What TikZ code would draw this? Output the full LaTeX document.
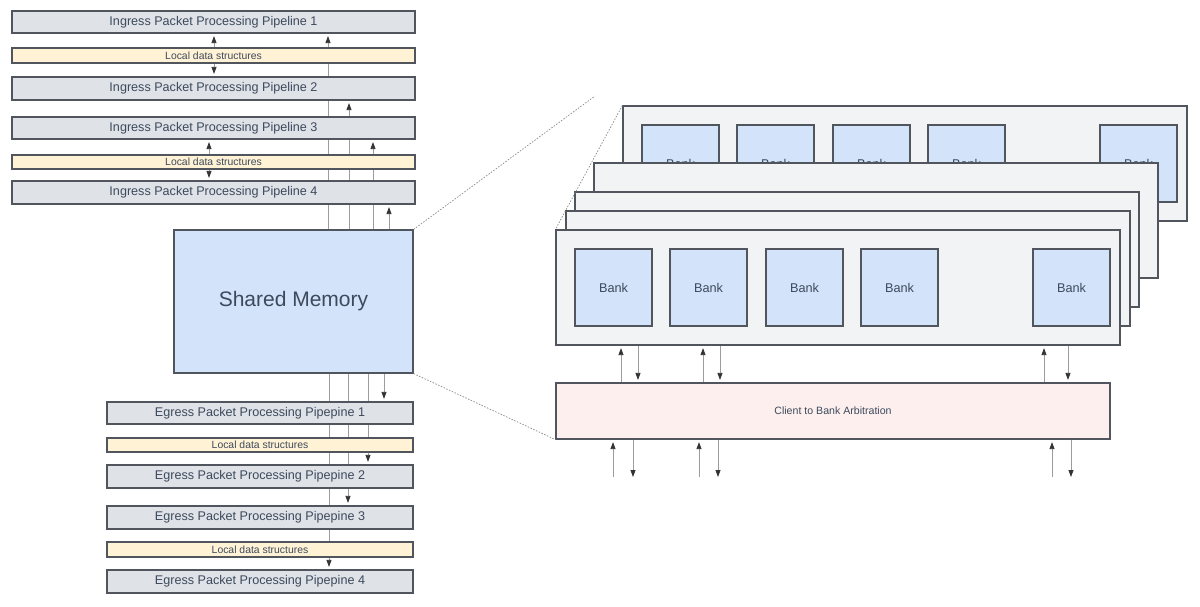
\documentclass[tikz,border=0pt]{standalone}
\usepackage{fontspec}
\setmainfont{Liberation Sans}
\usetikzlibrary{arrows.meta}
\definecolor{pipefill}{HTML}{DFE2E7}
\definecolor{bordc}{HTML}{50555E}
\definecolor{localfill}{HTML}{FFF2D5}
\definecolor{bluefill}{HTML}{D3E3FA}
\definecolor{panelfill}{HTML}{F2F3F5}
\definecolor{arbfill}{HTML}{FCEFEE}
\definecolor{txtc}{HTML}{3D4A5C}
\definecolor{linec}{HTML}{9C9C9C}
\definecolor{headc}{HTML}{333333}
\definecolor{dotc}{HTML}{8A8A8A}
\pgfdeclarelayer{bg}
\pgfsetlayers{bg,main}
\tikzset{
  basebox/.style={draw=bordc, line width=1.2pt, inner sep=0pt, text=txtc, align=center},
  pipebox/.style={basebox, fill=pipefill, font=\fontsize{12.6}{14}\selectfont},
  localbox/.style={basebox, fill=localfill, font=\fontsize{10.4}{12}\selectfont},
  membox/.style={basebox, fill=bluefill, font=\fontsize{21}{24}\selectfont},
  panelbox/.style={basebox, fill=panelfill, minimum width=564pt, minimum height=115pt},
  bankbox/.style={basebox, fill=bluefill, minimum width=77pt, minimum height=77pt, font=\fontsize{12.7}{14}\selectfont},
  arbbox/.style={basebox, fill=arbfill, font=\fontsize{10.6}{12}\selectfont},
  conn/.style={draw=linec, line width=0.8pt, -{Triangle[width=5pt,length=7pt,color=headc]}, shorten >=2.5pt},
  dotline/.style={draw=dotc, line width=0.7pt, dash pattern=on 1.5pt off 1.5pt}
}
\begin{document}
\begin{tikzpicture}[x=1pt,y=-1pt]
\begin{pgfonlayer}{bg}
\fill[white] (0,0) rectangle (1200,606);
\end{pgfonlayer}
\useasboundingbox (0,0) rectangle (1200,606);
% left column
\node[pipebox, minimum width=403pt, minimum height=22pt] (I1) at (213.5,22) {Ingress Packet Processing Pipeline 1};
\node[localbox, minimum width=403pt, minimum height=15pt] (L1) at (213.5,55.5) {Local data structures};
\node[pipebox, minimum width=403pt, minimum height=23pt] (I2) at (213.5,88.5) {Ingress Packet Processing Pipeline 2};
\node[pipebox, minimum width=403pt, minimum height=22pt] (I3) at (213.5,128) {Ingress Packet Processing Pipeline 3};
\node[localbox, minimum width=403pt, minimum height=14pt] (L2) at (213.5,162) {Local data structures};
\node[pipebox, minimum width=403pt, minimum height=23pt] (I4) at (213.5,192.5) {Ingress Packet Processing Pipeline 4};
\node[membox, minimum width=239pt, minimum height=143pt] (SM) at (293.5,301.5) {Shared Memory};
\node[pipebox, minimum width=306pt, minimum height=22pt] (E1) at (260,413) {Egress Packet Processing Pipepine 1};
\node[localbox, minimum width=306pt, minimum height=14pt] (LE1) at (260,445) {Local data structures};
\node[pipebox, minimum width=306pt, minimum height=23pt] (E2) at (260,476.5) {Egress Packet Processing Pipepine 2};
\node[pipebox, minimum width=306pt, minimum height=23pt] (E3) at (260,517.5) {Egress Packet Processing Pipepine 3};
\node[localbox, minimum width=306pt, minimum height=15pt] (LE2) at (260,549.5) {Local data structures};
\node[pipebox, minimum width=306pt, minimum height=23pt] (E4) at (260,581.5) {Egress Packet Processing Pipepine 4};
% right: stacked panels
\node[panelbox] (P1) at (905,163.5) {};
\node[bankbox] (bb1) at (680.5,163.5) {Bank};
\node[bankbox] (bb2) at (775.5,163.5) {Bank};
\node[bankbox] (bb3) at (871.5,163.5) {Bank};
\node[bankbox] (bb4) at (966.5,163.5) {Bank};
\node[bankbox] (bb5) at (1138.5,163.5) {Bank};
\node[panelbox] (P2) at (876,220.5) {};
\node[panelbox] (P3) at (857,249.5) {};
\node[panelbox] (P4) at (848,268.5) {};
\node[panelbox] (P5) at (838,287.5) {};
\node[bankbox] (B1) at (613.5,287.5) {Bank};
\node[bankbox] (B2) at (708.5,287.5) {Bank};
\node[bankbox] (B3) at (804.5,287.5) {Bank};
\node[bankbox] (B4) at (899.5,287.5) {Bank};
\node[bankbox] (B5) at (1071.5,287.5) {Bank};
\node[arbbox, minimum width=554pt, minimum height=56pt] (Arb) at (833,411) {Client to Bank Arbitration};
% free ends below arbitration
\coordinate (c1) at (613,477);
\coordinate (c2) at (633,477);
\coordinate (c3) at (699,477);
\coordinate (c4) at (718,477);
\coordinate (c5) at (1052,477);
\coordinate (c6) at (1071,477);
\coordinate (dz) at (595,96);
\begin{pgfonlayer}{bg}
% local data structure arrows
\draw[conn] (214,0 |- L1.north) -- (214,0 |- I1.south);
\draw[conn] (214,0 |- L1.south) -- (214,0 |- I2.north);
\draw[conn] (209,0 |- L2.north) -- (209,0 |- I3.south);
\draw[conn] (209,0 |- L2.south) -- (209,0 |- I4.north);
% shared memory to ingress
\draw[conn] (328,0 |- SM.north) -- (328,0 |- I1.south);
\draw[conn] (349,0 |- SM.north) -- (349,0 |- I2.south);
\draw[conn] (373,0 |- SM.north) -- (373,0 |- I3.south);
\draw[conn] (389,0 |- SM.north) -- (389,0 |- I4.south);
% shared memory to egress
\draw[conn] (384,0 |- SM.south) -- (384,0 |- E1.north);
\draw[conn] (368,0 |- SM.south) -- (368,0 |- E2.north);
\draw[conn] (348,0 |- SM.south) -- (348,0 |- E3.north);
\draw[conn] (329,0 |- SM.south) -- (329,0 |- E4.north);
\end{pgfonlayer}
% arbitration <-> banks
\draw[conn] (621,0 |- Arb.north) -- (621,0 |- P5.south);
\draw[conn] (638,0 |- P5.south) -- (638,0 |- Arb.north);
\draw[conn] (703,0 |- Arb.north) -- (703,0 |- P5.south);
\draw[conn] (720,0 |- P5.south) -- (720,0 |- Arb.north);
\draw[conn] (1044,0 |- Arb.north) -- (1044,0 |- P5.south);
\draw[conn] (1068,0 |- P5.south) -- (1068,0 |- Arb.north);
% clients <-> arbitration
\draw[conn] (c1) -- (c1 |- Arb.south);
\draw[conn, shorten >=0pt] (c2 |- Arb.south) -- (c2);
\draw[conn] (c3) -- (c3 |- Arb.south);
\draw[conn, shorten >=0pt] (c4 |- Arb.south) -- (c4);
\draw[conn] (c5) -- (c5 |- Arb.south);
\draw[conn, shorten >=0pt] (c6 |- Arb.south) -- (c6);
% zoom dotted lines
\draw[dotline] (SM.north east) -- (dz);
\draw[dotline] (P1.north west) -- (P5.north west);
\draw[dotline] (SM.south east) -- (Arb.south west);
\end{tikzpicture}
\end{document}
